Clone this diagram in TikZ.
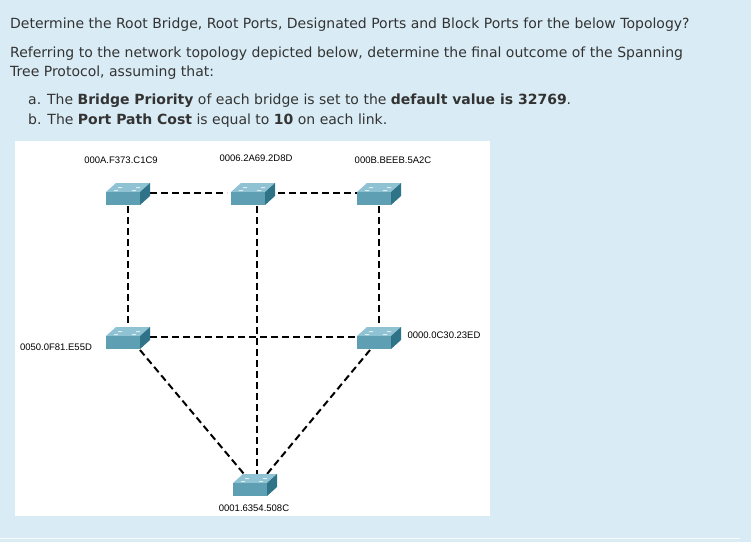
\documentclass[tikz,border=0pt]{standalone}
\usepackage{fontspec}
\setmainfont{DejaVu Sans}
\newfontfamily\lblfont{Liberation Sans}
\definecolor{bgblue}{HTML}{D9ECF5}
\definecolor{sTop}{HTML}{8FC3D3}
\definecolor{sFront}{HTML}{5E9FB4}
\definecolor{sSide}{HTML}{2F7388}
\definecolor{txt}{HTML}{333333}
\tikzset{
  lbl/.style={font=\lblfont\fontsize{9.5}{10}\selectfont, text=black, inner sep=0pt},
  link/.style={line width=2pt, dash pattern=on 7pt off 4pt},
  qtext/.style={anchor=west, inner sep=0pt, text=txt, font=\fontsize{14}{16}\selectfont}
}
\newcommand{\switchicon}[3]{%
  \begin{scope}[shift={(#2,#3)}]
    \fill[sTop] (-22,-3) -- (-12,-12) -- (22,-12) -- (12,-3) -- cycle;
    \fill[sFront] (-22,-3) rectangle (12,10);
    \fill[sSide] (12,-3) -- (22,-12) -- (22,1) -- (12,10) -- cycle;
    \fill[white,opacity=0.7] (-10,-8) rectangle (-6,-7) (8,-8) rectangle (12,-7) (-14,-5) rectangle (-10,-4) (4,-5) rectangle (8,-4);
    \coordinate (#1) at (0,0);
  \end{scope}}
\begin{document}
\begin{tikzpicture}[x=1pt,y=-1pt]
\useasboundingbox (0,0) rectangle (751,542);
\fill[bgblue] (0,0) rectangle (751,542);
\draw[white!80!bgblue] (0,538.5) -- (740,538.5);
\fill[white] (15,141) rectangle (490,516);
\node[qtext] (q1) at (10,25) {Determine the Root Bridge, Root Ports, Designated Ports and Block Ports for the below Topology?};
\node[qtext] (q2) at (10,54) {Referring to the network topology depicted below, determine the final outcome of the Spanning};
\node[qtext] (q3) at (10,73) {Tree Protocol, assuming that:};
\node[qtext] (q4) at (28,101) {a. The \textbf{Bridge Priority} of each bridge is set to the \textbf{default value is 32769}.};
\node[qtext] (q5) at (28,121) {b. The \textbf{Port Path Cost} is equal to \textbf{10} on each link.};
% links
\draw[link] (150,193) -- (227,193);
\draw[link] (267,193) -- (360,193);
\draw[link] (128,206) -- (128,330);
\draw[link] (257,206) -- (257,474);
\draw[link] (379,206) -- (379,330);
\draw[link] (150,337) -- (360,337);
\draw[link] (140,350) -- (244,474);
\draw[link] (370,350) -- (267,474);
% switches
\switchicon{sA}{128}{195}
\switchicon{sB}{253}{195}
\switchicon{sC}{379}{195}
\switchicon{sD}{128}{339}
\switchicon{sE}{379}{339}
\switchicon{sF}{255}{486}
\node[lbl] (lA) at (121,160) {000A.F373.C1C9};
\node[lbl] (lB) at (256,158) {0006.2A69.2D8D};
\node[lbl] (lC) at (393,160) {000B.BEEB.5A2C};
\node[lbl] (lD) at (56,347) {0050.0F81.E55D};
\node[lbl] (lE) at (444,335) {0000.0C30.23ED};
\node[lbl] (lF) at (254,508) {0001.6354.508C};
\end{tikzpicture}
\end{document}
